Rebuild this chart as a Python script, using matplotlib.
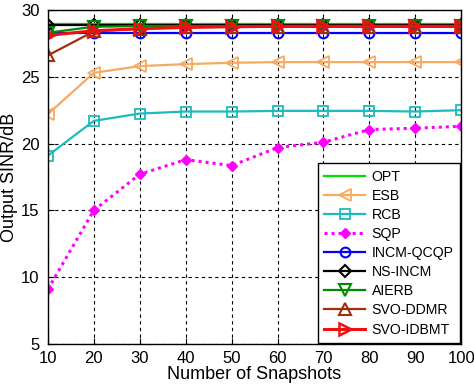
import matplotlib.pyplot as plt
import numpy as np

plt.rcParams['font.family'] = ['Liberation Sans', 'DejaVu Sans']

snapshots = [10, 20, 30, 40, 50, 60, 70, 80, 90, 100]

opt = [28.95, 28.95, 28.95, 28.95, 28.95, 28.95, 28.95, 28.95, 28.95, 28.95]
esb = [22.2, 25.3, 25.8, 25.95, 26.05, 26.1, 26.1, 26.1, 26.1, 26.1]
rcb = [19.1, 21.7, 22.25, 22.4, 22.4, 22.45, 22.45, 22.45, 22.4, 22.5]
sqp = [9.1, 15.0, 17.7, 18.8, 18.35, 19.7, 20.1, 21.05, 21.15, 21.3]
incm_qcqp = [28.3, 28.3, 28.3, 28.3, 28.3, 28.3, 28.3, 28.3, 28.3, 28.3]
ns_incm = [28.85, 28.85, 28.85, 28.85, 28.85, 28.85, 28.85, 28.85, 28.85, 28.85]
aierb = [28.3, 28.75, 28.8, 28.8, 28.8, 28.8, 28.8, 28.8, 28.8, 28.8]
svo_ddmr = [26.6, 28.4, 28.6, 28.7, 28.75, 28.75, 28.75, 28.75, 28.75, 28.75]
svo_idbmt = [28.1, 28.45, 28.6, 28.7, 28.75, 28.78, 28.78, 28.78, 28.78, 28.78]

fig = plt.figure(figsize=(4.74, 3.86), dpi=100)
ax = fig.add_axes([0.101, 0.109, 0.872, 0.865])

lw = 1.6
ax.plot(snapshots, opt, color='#00e000', lw=lw, label='OPT')
ax.plot(snapshots, esb, color='#f7aa60', lw=lw, marker='<', ms=8, mfc='none', mew=1.3, label='ESB')
ax.plot(snapshots, rcb, color='#1cbcbc', lw=lw, marker='s', ms=7, mfc='none', mew=1.3, label='RCB')
ax.plot(snapshots, sqp, color='#ff00ff', lw=2.2, ls=(0, (1, 1.3)), marker='D', ms=5, label='SQP')
ax.plot(snapshots, incm_qcqp, color='#0000ff', lw=lw, marker='o', ms=7, mfc='none', mew=1.5, label='INCM-QCQP')
ax.plot(snapshots, ns_incm, color='black', lw=lw, marker='D', ms=6, mfc='none', mew=1.5, label='NS-INCM')
ax.plot(snapshots, aierb, color='#008a00', lw=lw, marker='v', ms=8, mfc='none', mew=1.5, label='AIERB')
ax.plot(snapshots, svo_ddmr, color='#a0300a', lw=lw, marker='^', ms=8, mfc='none', mew=1.5, label='SVO-DDMR')
ax.plot(snapshots, svo_idbmt, color='#ee1111', lw=2.2, marker='>', ms=8, mfc='none', mew=1.8, label='SVO-IDBMT')

ax.set_xlim(10, 100)
ax.set_ylim(5, 30)
ax.set_xticks(snapshots)
ax.set_yticks([5, 10, 15, 20, 25, 30])
ax.grid(True, color='black', ls=(0, (3, 3)), lw=0.8)
ax.tick_params(direction='in', labelsize=12, length=4)
ax.tick_params(axis='x', pad=5)
ax.tick_params(axis='y', pad=6)
ax.set_xlabel('Number of Snapshots', fontsize=13, labelpad=0)
ax.set_ylabel('Output SINR/dB', fontsize=13, labelpad=2)
for s in ax.spines.values():
    s.set_linewidth(1.0)

leg = ax.legend(loc='lower right', fontsize=10.2, frameon=True, fancybox=False,
                edgecolor='black', framealpha=1, handlelength=2.9, handletextpad=0.45,
                borderpad=0.45, labelspacing=0.36, borderaxespad=0.0,
                bbox_to_anchor=(0.997, 0.003))
leg.get_frame().set_linewidth(1.0)

fig.savefig('out.png', dpi=100)
